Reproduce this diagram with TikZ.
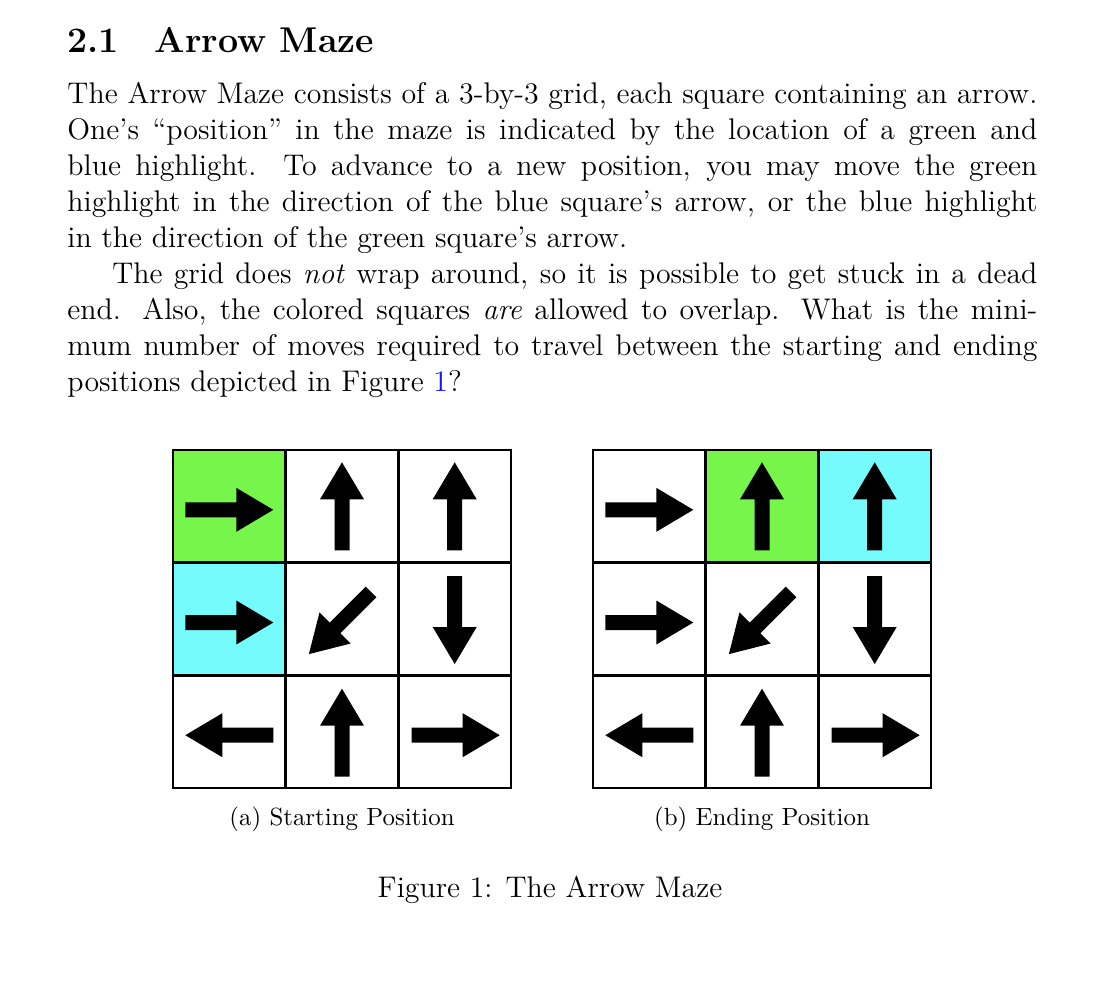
\documentclass[tikz,border=0pt]{standalone}
\usepackage{xcolor}
\definecolor{mzgreen}{RGB}{118,246,75}
\definecolor{mzcyan}{RGB}{118,251,252}
\definecolor{linkblue}{RGB}{20,20,255}
\begin{document}
\begin{tikzpicture}[x=0.40209pt,y=-0.40209pt,
  cell/.style={draw=black,line width=1pt,minimum size=45.3pt,inner sep=0pt,outer sep=0pt,fill=white},
  body/.style={font=\fontsize{12}{14.5}\selectfont,inner sep=0pt},
  subcap/.style={font=\fontsize{10}{12}\selectfont,inner sep=0pt,anchor=base},
]
\useasboundingbox (0,0) rectangle (1108,988);
\newcommand\mzarrow[3]{\fill[black,shift={(#1)},shift={(#3)},rotate=#2]
  (-44,-7.5) -- (7,-7.5) -- (7,-22) -- (44,0) -- (7,22) -- (7,7.5) -- (-44,7.5) -- cycle;}
\newcommand\fulline[1]{\hbox to 390pt{\nonfrenchspacing #1}}
\newcommand\lastline[1]{\hbox{\nonfrenchspacing #1}}

% heading
\node[inner sep=0pt,anchor=base west,font=\fontsize{14.4}{17}\selectfont\bfseries] (head) at (67,52) {2.1\quad Arrow Maze};

% body text
\node[body,anchor=base west] (text) at (67,103)
{\vtop{\hsize=390pt\parindent=0pt\baselineskip=14.5pt\lineskiplimit=-10pt
\fulline{The Arrow Maze consists of a 3-by-3 grid, each square containing an arrow.}
\fulline{One's ``position'' in the maze is indicated by the location of a green and}
\fulline{blue highlight.  To advance to a new position, you may move the green}
\fulline{highlight in the direction of the blue square's arrow, or the blue highlight}
\lastline{in the direction of the green square's arrow.}
\fulline{\hspace*{18pt}The grid does \emph{not} wrap around, so it is possible to get stuck in a dead}
\fulline{end.  Also, the colored squares \emph{are} allowed to overlap.  What is the mini-}
\fulline{mum number of moves required to travel between the starting and ending}
\lastline{positions depicted in Figure \textcolor{linkblue}{1}?}
}};

% grids
\foreach \c/\x in {0/229.3,1/342,2/454.7}{
  \foreach \r/\y in {0/506.3,1/619,2/731.7}{
    \node[cell] (L\r\c) at (\x,\y) {};
    \node[cell] (R\r\c) at (\x+420,\y) {};
  }
}
\node[cell,fill=mzgreen] (Lg) at (L00) {};
\node[cell,fill=mzcyan] (Lc) at (L10) {};
\node[cell,fill=mzgreen] (Rg) at (R01) {};
\node[cell,fill=mzcyan] (Rc) at (R02) {};

\foreach \g in {L,R}{
  \mzarrow{\g00}{0}{0,3.5}
  \mzarrow{\g01}{90}{0,0}
  \mzarrow{\g02}{90}{0,0}
  \mzarrow{\g10}{0}{0,3.5}
  \mzarrow{\g11}{225}{-2,4}
  \mzarrow{\g12}{-90}{0,1}
  \mzarrow{\g20}{180}{0,3.5}
  \mzarrow{\g21}{90}{0,1}
  \mzarrow{\g22}{0}{1,3.5}
}

% captions
\node[subcap] (capa) at (342,825) {(a) Starting Position};
\node[subcap] (capb) at (762,825) {(b) Ending Position};
\node[body,anchor=base] (fig) at (550,897) {Figure 1: The Arrow Maze};
\end{tikzpicture}
\end{document}
